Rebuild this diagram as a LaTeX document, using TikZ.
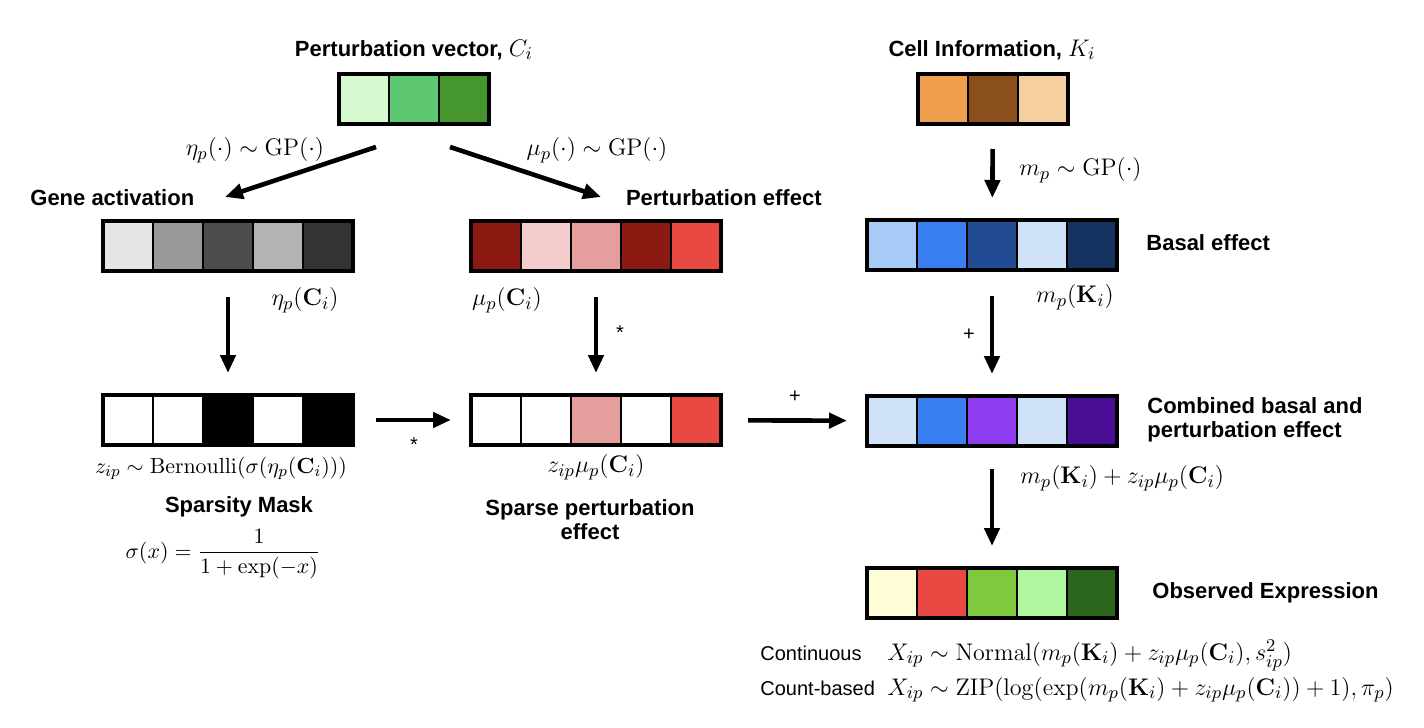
\documentclass[tikz,border=0pt]{standalone}
\usepackage[no-math]{fontspec}
\usepackage{amsmath}
\newfontfamily\hv{Liberation Sans}
\usetikzlibrary{arrows.meta}
\definecolor{g1}{HTML}{D6F9D0}\definecolor{g2}{HTML}{5DC86F}\definecolor{g3}{HTML}{45962D}
\definecolor{o1}{HTML}{EF9F4D}\definecolor{o2}{HTML}{8B4F1C}\definecolor{o3}{HTML}{F5CFA0}
\definecolor{k1}{HTML}{E5E5E5}\definecolor{k2}{HTML}{999999}\definecolor{k3}{HTML}{4D4D4D}\definecolor{k4}{HTML}{B3B3B3}\definecolor{k5}{HTML}{333333}
\definecolor{r1}{HTML}{8C1A12}\definecolor{r2}{HTML}{F5CCCC}\definecolor{r3}{HTML}{E59E9B}\definecolor{r5}{HTML}{E84A43}
\definecolor{b1}{HTML}{A6CBF7}\definecolor{b2}{HTML}{3A7FF0}\definecolor{b3}{HTML}{204B92}\definecolor{b4}{HTML}{D0E2F8}\definecolor{b5}{HTML}{163260}
\definecolor{p3}{HTML}{8E3CF0}\definecolor{p5}{HTML}{4A0D96}
\definecolor{e1}{HTML}{FFFDD6}\definecolor{e3}{HTML}{80C83C}\definecolor{e4}{HTML}{B0F5A0}\definecolor{e5}{HTML}{2C651C}
\newcommand\vecrow[5]{%
  \foreach \c [count=\k] in {#4} {
    \node[cell, fill=\c] (#1-\k) at ({#2+25+50*(\k-1)},{#3+25}) {};
  }
  \node[frame, minimum width=#5*25pt] (#1) at ({#2+25*#5},{#3+25}) {};
}
\begin{document}
\begin{tikzpicture}[x=0.5pt,y=-0.5pt,
  cell/.style={draw=black, line width=1pt, minimum width=25pt, minimum height=25pt, inner sep=0pt, outer sep=0pt},
  frame/.style={draw=black, line width=1.6pt, minimum height=25pt, inner sep=0pt, outer sep=0pt},
  arr/.style={line width=2.3pt, -{Triangle[length=9pt,width=7.5pt]}},
  btxt/.style={font=\hv\bfseries\fontsize{11}{13}\selectfont, inner sep=0pt},
  rtxt/.style={font=\hv\fontsize{10}{12}\selectfont, inner sep=0pt},
  mtxt/.style={font=\fontsize{12.5}{15}\selectfont, inner sep=0pt},
  stxt/.style={font=\fontsize{11}{13}\selectfont, inner sep=0pt}]
\useasboundingbox (0,0) rectangle (1424,728);
% rows
\vecrow{green}{339}{74}{g1,g2,g3}{3}
\vecrow{orange}{918}{74}{o1,o2,o3}{3}
\vecrow{gray}{103}{221}{k1,k2,k3,k4,k5}{5}
\vecrow{red}{471}{221}{r1,r2,r3,r1,r5}{5}
\vecrow{blue}{867}{220}{b1,b2,b3,b4,b5}{5}
\vecrow{mask}{103}{395}{white,white,black,white,black}{5}
\vecrow{sparse}{471}{395}{white,white,r3,white,r5}{5}
\vecrow{comb}{867}{396}{b4,b2,p3,b4,p5}{5}
\vecrow{obs}{867}{568}{e1,r5,e3,e4,e5}{5}
% titles
\node[btxt, anchor=base] (tpv) at (414,56) {Perturbation vector, {\fontsize{12.5}{15}\selectfont$C_i$}};
\node[btxt, anchor=base] (tci) at (992,56) {Cell Information, {\fontsize{12.5}{15}\selectfont$K_i$}};
\node[btxt, anchor=west] (tga) at (30,198) {Gene activation};
\node[btxt, anchor=east] (tpe) at (822,198) {Perturbation effect};
\node[btxt, anchor=west] (tbe) at (1146,243) {Basal effect};
\node[btxt, anchor=west, align=left] (tcb) at (1147,420) {Combined basal and\\[-1pt]perturbation effect};
\node[btxt] (tsm) at (239,507) {Sparsity Mask};
\node[btxt, align=center] (tsp) at (590,520) {Sparse perturbation\\[-1pt]effect};
\node[btxt, anchor=west] (toe) at (1152,593) {Observed Expression};
% math labels
\node[mtxt] (leta) at (255,150) {$\eta_p(\cdot) \sim \mathrm{GP}(\cdot)$};
\node[mtxt] (lmu) at (597,150) {$\mu_p(\cdot) \sim \mathrm{GP}(\cdot)$};
\node[mtxt, anchor=west] (lmp) at (1019,170) {$m_p \sim \mathrm{GP}(\cdot)$};
\node[mtxt] (leC) at (305,300) {$\eta_p(\mathbf{C}_i)$};
\node[mtxt] (lmC) at (507,300) {$\mu_p(\mathbf{C}_i)$};
\node[mtxt] (lmK) at (1075,297) {$m_p(\mathbf{K}_i)$};
\node[stxt] (lz) at (221,468) {$z_{ip} \sim \mathrm{Bernoulli}(\sigma(\eta_p(\mathbf{C}_i)))$};
\node[mtxt] (lzm) at (596,467) {$z_{ip}\mu_p(\mathbf{C}_i)$};
\node[mtxt, anchor=west] (lsum) at (1020,478) {$m_p(\mathbf{K}_i) + z_{ip}\mu_p(\mathbf{C}_i)$};
\node[stxt] (lsig) at (223,554) {$\sigma(x) = \dfrac{1}{1+\exp(-x)}$};
\node[rtxt, anchor=base west] (tcont) at (760,660) {Continuous};
\node[mtxt, anchor=base west] (fcont) at (887,660) {$X_{ip} \sim \mathrm{Normal}(m_p(\mathbf{K}_i) + z_{ip}\mu_p(\mathbf{C}_i), s_{ip}^2)$};
\node[rtxt, anchor=base west] (tcount) at (760,695) {Count-based};
\node[mtxt, anchor=base west] (fcount) at (887,695) {$X_{ip} \sim \mathrm{ZIP}(\log(\exp(m_p(\mathbf{K}_i) + z_{ip}\mu_p(\mathbf{C}_i)) + 1), \pi_p)$};
% operators
\node[rtxt] (op1) at (620,333) {*};
\node[rtxt] (op2) at (969,335) {+};
\node[rtxt] (op3) at (414,445) {*};
\node[rtxt] (op4) at (795,397) {+};
% connectors
\coordinate (d1s) at (376,147); \coordinate (d1e) at (225,197);
\coordinate (d2s) at (450,147); \coordinate (d2e) at (601,197);
\draw[arr] (d1s) -- (d1e);
\draw[arr] (d2s) -- (d2e);
\draw[arr, shorten <=12.5pt, shorten >=11pt] (orange) -- (blue);
\draw[arr, shorten <=13pt, shorten >=11pt] (gray) -- (mask);
\draw[arr, shorten <=13pt, shorten >=11pt] (red) -- (sparse);
\draw[arr, shorten <=13pt, shorten >=11pt] (blue) -- (comb);
\draw[arr, shorten <=11.5pt, shorten >=10pt] (mask) -- (sparse);
\draw[arr, shorten <=13.5pt, shorten >=10pt] (sparse) -- (comb);
\draw[arr, shorten <=11.5pt, shorten >=11pt] (comb) -- (obs);
\end{tikzpicture}
\end{document}
